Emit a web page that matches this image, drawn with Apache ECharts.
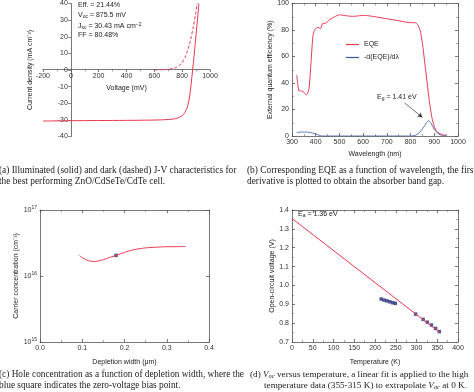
<!DOCTYPE html>
<html><head><meta charset="utf-8">
<script src="https://cdn.jsdelivr.net/npm/echarts@6/dist/echarts.min.js"></script>
<style>html,body{margin:0;padding:0;background:#fff}#c{width:474px;height:392px}</style>
</head><body><div id="c"></div>
<script>
// (a) J-V
const jvVoltage = [-200,0,200,400,600,700,750,780,800,820,840,855,865,875,885,895,905,913,920];
const jvLight   = [-30.7,-30.5,-30.4,-30.3,-30.1,-29.8,-29.3,-28.5,-27.5,-25.5,-21.5,-15,-8,0,8,17,26,33,40];
const darkVoltage = [600,650,700,750,780,800,820,840,860,880,895,908];
const darkCurrent = [0,0.1,0.4,1.3,2.8,4.5,7.5,12,18,26,33,40];
// (b) EQE
const eqeWavelength = [320,325,330,340,350,360,365,372,380,388,395,410,420,430,440,460,480,500,520,540,560,580,600,620,650,700,750,800,820,830,840,850,860,870,880,890,900,910,920,940,950];
const eqeValue      = [46,38,34,34,33,31,32,36,55,75,80,82,81,85,85,88,90,91.5,91,90.5,90.3,90.7,91,90.8,90,88.5,87,85.5,85.5,84,80,70,55,40,25,14,7,3.5,2,0.8,0.5];
const derivWavelength = [320,340,360,380,400,420,430,450,600,800,820,840,860,875,885,900,915,930,950];
const derivValue      = [2.5,3,3,2.5,1.5,0.3,0,0,0,0,0.5,3,8,11.5,10,5,2,0.5,0];
// (c) C-V profile
const depthWidth = [0.093,0.1,0.11,0.12,0.13,0.14,0.15,0.16,0.17,0.18,0.2,0.22,0.24,0.26,0.28,0.3,0.32,0.345];
const carrierConc = [2.05e16,1.9e16,1.75e16,1.68e16,1.66e16,1.7e16,1.77e16,1.86e16,1.96e16,2.05e16,2.28e16,2.48e16,2.62e16,2.7e16,2.74e16,2.78e16,2.78e16,2.8e16];
const zeroBias = [0.18, 2.05e16];
// (d) Voc vs T
const tempK = [215,222,229,236,243,249,298,316,326,336,346,355];
const vocV  = [0.928,0.922,0.918,0.913,0.908,0.905,0.848,0.82,0.805,0.79,0.772,0.755];
const fitT = [0,355];
const fitV = [1.355,0.752];

const zip = (a,b)=>a.map((v,i)=>[v,b[i]]);
const RED = '#e8384f', BLUE = '#3a5aa8', NAVY = '#26307a';
const AX = '#555';
const lbl = {fontSize:7, color:'#333', fontFamily:'Liberation Sans', margin:3, formatter:v=>String(v)};
const nm = {fontSize:7, color:'#222', fontFamily:'Liberation Sans'};

function mainAx(o){
  return Object.assign({
    type:'value', axisLine:{show:true, onZero:false, lineStyle:{color:AX, width:0.8}},
    axisTick:{show:true, inside:true, length:3, lineStyle:{color:AX, width:0.8}},
    minorTick:{show:true, splitNumber:2, length:1.8, lineStyle:{color:AX, width:0.6}},
    splitLine:{show:false}, axisLabel:lbl, nameTextStyle:nm, nameLocation:'middle'
  }, o);
}
function mirrorAx(o){
  return Object.assign(mainAx({}), {axisLabel:{show:false}}, o);
}

// grid (a) geometry
const aLeft = 43, aRight = 264, aTop = 2.5, aBottom = 255.5;
const aW = 474 - aLeft - aRight, aH = 392 - aTop - aBottom;
const aXmin = -200, aXmax = 1000, aYmin = -40, aYmax = 40;
const xZeroOff = -aH * (0 - aYmin) / (aYmax - aYmin);
const yZeroOff = -aW * (0 - aXmin) / (aXmax - aXmin);

const chart = echarts.init(document.getElementById('c'), null, {renderer:'canvas'});
const option = {
  animation:false,
  grid:[
    {left:aLeft, right:aRight, top:aTop, bottom:aBottom},
    {left:292, right:16, top:3, bottom:256},
    {left:40, right:265, top:210, bottom:50},
    {left:292, right:16, top:210, bottom:50}
  ],
  xAxis:[
    mainAx({gridIndex:0, min:aXmin, max:aXmax, interval:200, name:'Voltage (mV)', nameGap:15, offset:xZeroOff,
      axisTick:{show:true, inside:false, length:2.5, lineStyle:{color:AX, width:0.8}}}),
    mainAx({gridIndex:1, min:300, max:1000, interval:100, name:'Wavelength (nm)', nameGap:15}),
    mirrorAx({gridIndex:1, min:300, max:1000, interval:100, position:'top'}),
    mainAx({gridIndex:2, min:0, max:0.4, interval:0.1, name:'Depletion width (μm)', nameGap:17,
      axisLabel:Object.assign({}, lbl, {formatter:v=>v.toFixed(1)})}),
    mirrorAx({gridIndex:2, min:0, max:0.4, interval:0.1, position:'top'}),
    mainAx({gridIndex:3, min:0, max:400, interval:50, name:'Temperature (K)', nameGap:17}),
    mirrorAx({gridIndex:3, min:0, max:400, interval:50, position:'top'})
  ],
  yAxis:[
    mainAx({gridIndex:0, min:aYmin, max:aYmax, interval:10, name:'Current density (mA cm⁻²)', nameGap:37, offset:yZeroOff,
      axisTick:{show:true, inside:false, length:2.5, lineStyle:{color:AX, width:0.8}},
      minorTick:{show:false}}),
    mainAx({gridIndex:1, min:0, max:100, interval:20, name:'External quantum efficiency (%)', nameGap:17}),
    mirrorAx({gridIndex:1, min:0, max:100, interval:20, position:'right'}),
    mainAx({gridIndex:2, type:'log', logBase:10, min:1e15, max:1e17, name:'Carrier concentration (cm⁻³)', nameGap:18,
      minorTick:{show:false},
      axisLabel:Object.assign({}, lbl, {formatter:v=>'10{s|'+Math.round(Math.log10(v))+'}',
        rich:{s:{fontSize:5, verticalAlign:'top', padding:[0,0,4,0], fontFamily:'Liberation Sans', color:'#333'}}})}),
    mirrorAx({gridIndex:2, type:'log', logBase:10, min:1e15, max:1e17, position:'right', minorTick:{show:false}}),
    mainAx({gridIndex:3, min:0.7, max:1.4, interval:0.1, name:'Open-circuit voltage (V)', nameGap:16,
      axisLabel:Object.assign({}, lbl, {formatter:v=>v.toFixed(1)})}),
    mirrorAx({gridIndex:3, min:0.7, max:1.4, interval:0.1, position:'right'})
  ],
  legend:{left:341, top:36, orient:'vertical', icon:'rect', itemWidth:13, itemHeight:1.2, itemGap:6,
    textStyle:{fontSize:7, fontFamily:'Liberation Sans', color:'#222'},
    data:['EQE','-d(EQE)/dλ']},
  series:[
    {type:'line', xAxisIndex:0, yAxisIndex:0, data:zip(jvVoltage,jvLight), smooth:0.3, symbol:'none',
      lineStyle:{color:RED, width:1}},
    {type:'line', xAxisIndex:0, yAxisIndex:0, data:zip(darkVoltage,darkCurrent), smooth:0.3, symbol:'none',
      lineStyle:{color:RED, width:1, type:[3,2]}},
    {name:'EQE', type:'line', xAxisIndex:1, yAxisIndex:1, data:zip(eqeWavelength,eqeValue), smooth:0.2, symbol:'none',
      itemStyle:{color:RED}, lineStyle:{color:RED, width:1}},
    {name:'-d(EQE)/dλ', type:'line', xAxisIndex:1, yAxisIndex:1, data:zip(derivWavelength,derivValue), smooth:0.3, symbol:'none',
      itemStyle:{color:BLUE}, lineStyle:{color:BLUE, width:0.8},
      markLine:{silent:true, symbol:['none','arrow'], symbolSize:[4,5], label:{show:false},
        lineStyle:{color:'#333', width:0.7, type:'solid'},
        data:[[{coord:[775,25]},{coord:[850,14]}]]}},
    {type:'line', xAxisIndex:3, yAxisIndex:3, data:zip(depthWidth,carrierConc), smooth:0.4, symbol:'none',
      lineStyle:{color:RED, width:1}},
    {type:'scatter', xAxisIndex:3, yAxisIndex:3, data:[zeroBias], symbol:'rect', symbolSize:3.5, itemStyle:{color:NAVY}},
    {type:'line', xAxisIndex:5, yAxisIndex:5, data:zip(fitT,fitV), symbol:'none', lineStyle:{color:RED, width:1}},
    {type:'scatter', xAxisIndex:5, yAxisIndex:5, data:zip(tempK,vocV), symbol:'rect', symbolSize:3.5, itemStyle:{color:NAVY}}
  ],
  graphic:[]
};

const tf = {fontSize:7, fontFamily:'Liberation Sans', fill:'#222'};
const subRich = {s:{fontSize:5, fontFamily:'Liberation Sans', fill:'#222', verticalAlign:'bottom', padding:[3,0,0,0]},
                 p:{fontSize:5, fontFamily:'Liberation Sans', fill:'#222', verticalAlign:'top', padding:[0,0,3,0]}};
function txt(x,y,text,extra){
  return {type:'text', left:x, top:y, silent:true, style:Object.assign({text:text, rich:subRich}, tf, extra||{})};
}
option.graphic.push(
  txt(78,2,'Eff. = 21.44%'),
  txt(78,12,'V{s|oc} = 875.5 mV'),
  txt(78,22,'J{s|sc} = 30.43 mA cm{p|−2}'),
  txt(78,32,'FF = 80.48%'),
  txt(377,94,'E{s|g} = 1.41 eV'),
  txt(298,211,'E{s|a} = 1.36 eV')
);
function cap(x,y,text,fs){
  const capRich = {i:{fontStyle:'italic', fontSize:fs, fontFamily:'Liberation Serif', fill:'#222'},
                   s:{fontStyle:'italic', fontSize:fs*0.7, fontFamily:'Liberation Serif', fill:'#222', verticalAlign:'bottom', padding:[3,0,0,0]}};
  return {type:'text', left:x, top:y, silent:true,
    style:{text:text, rich:capRich, fontSize:fs, fontFamily:'Liberation Serif', fill:'#222'}};
}
option.graphic.push(
  cap(-1,166,'(a) Illuminated (solid) and dark (dashed) J-V characteristics for',9.4),
  cap(-1,177,'the best performing ZnO/CdSeTe/CdTe cell.',9.4),
  cap(247,166,'(b) Corresponding EQE as a function of wavelength, the first',9.4),
  cap(247,177,'derivative is plotted to obtain the absorber band gap.',9.4),
  cap(-1,370,'(c) Hole concentration as a function of depletion width, where the',9.3),
  cap(-1,381,'blue square indicates the zero-voltage bias point.',9.3),
  cap(250,370,'(d) {i|V}{s|oc} versus temperature, a linear fit is applied to the high',9.2),
  cap(264,381,'temperature data (355-315 K) to extrapolate {i|V}{s|oc} at 0 K.',9.2)
);
chart.setOption(option);
</script></body></html>
